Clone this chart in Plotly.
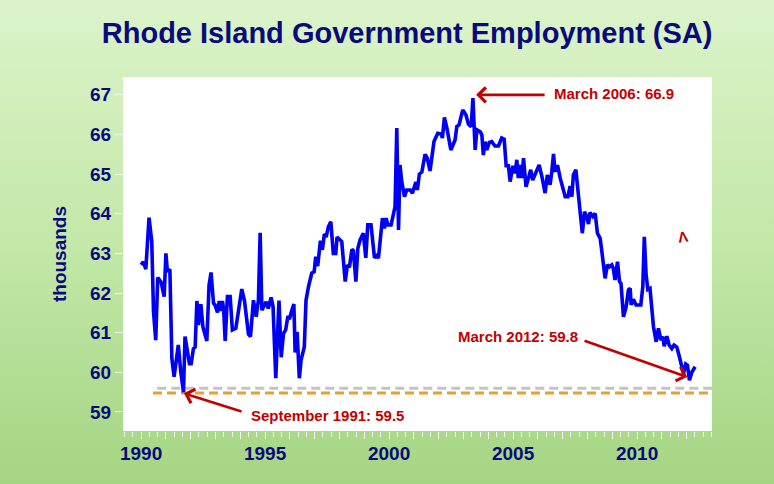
import base64
import plotly.graph_objects as go

# Rhode Island government employment (thousands, seasonally adjusted)
years = [
    1990.00, 1990.09, 1990.19, 1990.32, 1990.43, 1990.50, 1990.59, 1990.67, 1990.81, 1990.93,
    1991.00, 1991.06, 1991.16, 1991.24, 1991.33, 1991.50, 1991.60, 1991.71, 1991.77, 1991.87,
    1991.95, 1992.02, 1992.11, 1992.18, 1992.25, 1992.31, 1992.41, 1992.49, 1992.65, 1992.74,
    1992.82, 1992.92, 1992.98, 1993.08, 1993.15, 1993.21, 1993.28, 1993.33, 1993.39, 1993.48,
    1993.59, 1993.68, 1993.82, 1994.06, 1994.17, 1994.33, 1994.41, 1994.53, 1994.64, 1994.73,
    1994.80, 1994.87, 1994.96, 1995.04, 1995.13, 1995.24, 1995.32, 1995.43, 1995.56, 1995.65,
    1995.74, 1995.83, 1995.92, 1995.98, 1996.08, 1996.16, 1996.21, 1996.29, 1996.38, 1996.45,
    1996.58, 1996.65, 1996.75, 1996.88, 1996.98, 1997.04, 1997.12, 1997.23, 1997.31, 1997.39,
    1997.46, 1997.55, 1997.65, 1997.75, 1997.85, 1997.90, 1998.09, 1998.23, 1998.32, 1998.40,
    1998.50, 1998.56, 1998.66, 1998.74, 1998.83, 1998.96, 1999.06, 1999.14, 1999.27, 1999.41,
    1999.50, 1999.57, 1999.73, 1999.81, 1999.88, 1999.95, 2000.08, 2000.17, 2000.24, 2000.31,
    2000.38, 2000.44, 2000.51, 2000.62, 2000.71, 2000.85, 2000.94, 2001.08, 2001.14, 2001.22,
    2001.32, 2001.45, 2001.54, 2001.65, 2001.81, 2001.96, 2002.10, 2002.15, 2002.23, 2002.33,
    2002.49, 2002.66, 2002.73, 2002.82, 2002.97, 2003.10, 2003.20, 2003.31, 2003.38, 2003.47,
    2003.54, 2003.67, 2003.74, 2003.80, 2003.87, 2003.94, 2004.04, 2004.14, 2004.27, 2004.41,
    2004.54, 2004.64, 2004.72, 2004.81, 2004.88, 2004.99, 2005.08, 2005.15, 2005.21, 2005.28,
    2005.35, 2005.42, 2005.52, 2005.62, 2005.71, 2005.79, 2005.89, 2006.05, 2006.16, 2006.29,
    2006.38, 2006.49, 2006.56, 2006.63, 2006.69, 2006.79, 2006.90, 2007.00, 2007.10, 2007.21,
    2007.30, 2007.37, 2007.43, 2007.53, 2007.63, 2007.70, 2007.79, 2007.88, 2007.97, 2008.04,
    2008.10, 2008.21, 2008.31, 2008.40, 2008.51, 2008.58, 2008.64, 2008.71, 2008.80, 2008.88,
    2008.98, 2009.04, 2009.11, 2009.21, 2009.29, 2009.35, 2009.45, 2009.56, 2009.65, 2009.72,
    2009.76, 2009.85, 2009.96, 2010.15, 2010.23, 2010.29, 2010.36, 2010.43, 2010.52, 2010.59,
    2010.66, 2010.77, 2010.86, 2010.96, 2011.04, 2011.09, 2011.20, 2011.29, 2011.40, 2011.49,
    2011.60, 2011.69, 2011.80, 2011.87, 2011.96, 2012.03, 2012.11, 2012.21, 2012.34,
]
employment = [
    62.71, 62.79, 62.60, 63.90, 63.30, 61.53, 60.81, 62.39, 62.27, 61.91,
    63.00, 62.54, 62.60, 60.35, 59.89, 60.69, 60.01, 59.50, 60.90, 60.52,
    60.22, 60.22, 60.60, 60.64, 61.80, 61.19, 61.72, 61.15, 60.79, 62.20,
    62.52, 61.74, 61.70, 61.51, 61.80, 61.55, 61.80, 61.57, 60.79, 61.91,
    61.91, 61.07, 61.11, 62.10, 61.80, 60.96, 60.90, 61.82, 61.40, 61.82,
    63.52, 61.57, 61.70, 61.78, 61.61, 61.89, 61.66, 59.85, 61.81, 60.38,
    60.98, 61.07, 61.42, 61.34, 61.57, 61.72, 60.50, 61.02, 59.85, 60.31,
    60.64, 61.82, 62.16, 62.50, 62.54, 62.92, 62.68, 63.32, 63.09, 63.49,
    63.41, 63.67, 63.80, 63.00, 63.00, 63.41, 63.30, 62.29, 62.71, 62.65,
    63.10, 63.07, 62.29, 63.13, 63.34, 63.51, 62.89, 63.72, 63.72, 62.89,
    62.94, 62.88, 63.89, 63.63, 63.89, 63.72, 63.72, 64.01, 64.18, 66.16,
    63.59, 65.23, 64.81, 64.43, 64.60, 64.60, 64.52, 64.80, 64.60, 65.00,
    65.05, 65.50, 65.40, 65.08, 65.82, 66.03, 66.01, 65.91, 66.43, 66.16,
    65.61, 65.86, 66.20, 66.24, 66.62, 66.49, 66.26, 66.20, 66.92, 65.61,
    66.12, 66.07, 65.99, 65.48, 65.82, 65.61, 65.80, 65.82, 65.71, 65.71,
    65.91, 65.88, 65.21, 65.21, 64.81, 65.21, 65.02, 65.36, 64.90, 65.23,
    64.90, 65.40, 64.68, 64.90, 65.11, 64.85, 65.00, 65.23, 64.94, 64.52,
    64.98, 64.73, 65.06, 65.51, 65.06, 65.23, 64.90, 64.68, 64.43, 64.43,
    64.70, 64.43, 64.98, 65.11, 64.43, 64.10, 63.51, 64.05, 63.93, 63.74,
    64.03, 63.93, 64.01, 63.51, 63.38, 63.04, 62.75, 62.37, 62.71, 62.66,
    62.71, 62.62, 62.33, 62.79, 62.29, 62.24, 61.40, 61.66, 62.08, 62.12,
    61.70, 61.84, 61.70, 61.70, 62.16, 63.42, 62.49, 62.09, 62.12, 61.61,
    61.15, 60.77, 61.11, 60.81, 60.90, 60.66, 60.91, 60.69, 60.60, 60.69,
    60.64, 60.43, 60.14, 59.97, 60.21, 60.18, 59.80, 60.01, 60.14,
]

tick_years = list(range(1990, 2013))
tick_text = [str(y) if y % 5 == 0 else "" for y in tick_years]
y_ticks = list(range(59, 68))
LOW_VALUE = 59.5

X_RANGE = [1989.27, 2013.02]
Y_RANGE = [58.52, 67.45]

NAVY = "#0a0a7c"
RED = "#c20000"
FONT = "Liberation Sans, Arial, sans-serif"
TICK_COLOR = "rgba(255,255,255,0.85)"

# green gradient behind everything (plotly has no gradient paper background)
bg_svg = (
    "<svg xmlns='http://www.w3.org/2000/svg' width='774' height='484'>"
    "<defs><linearGradient id='g' x1='0' y1='0' x2='0' y2='1'>"
    "<stop offset='0' stop-color='#dcf3ca'/>"
    "<stop offset='0.5' stop-color='#c3e8a8'/>"
    "<stop offset='1' stop-color='#a4d583'/>"
    "</linearGradient></defs>"
    "<rect width='774' height='484' fill='url(#g)'/></svg>"
)
bg_uri = "data:image/svg+xml;base64," + base64.b64encode(bg_svg.encode()).decode()

W, H = 774, 484
M = dict(l=123, r=62, t=77, b=53)
pw = W - M["l"] - M["r"]
ph = H - M["t"] - M["b"]

fig = go.Figure()
fig.add_trace(go.Scatter(
    x=years, y=employment, mode="lines",
    line=dict(color="#0000f5", width=3.6),
    showlegend=False, hoverinfo="skip",
))

fig.add_layout_image(
    source=bg_uri, xref="paper", yref="paper",
    x=-M["l"] / pw, y=1 + M["t"] / ph,
    sizex=W / pw, sizey=H / ph,
    xanchor="left", yanchor="top", sizing="stretch", layer="below",
)
# white plotting area on top of the gradient
fig.add_shape(type="rect", xref="paper", yref="paper", x0=0, x1=1, y0=0, y1=1,
              fillcolor="white", line=dict(width=0), layer="below")

# grey shadow line + orange dashed low line
fig.add_shape(type="line", xref="x", yref="y", x0=1990.65, x1=X_RANGE[1],
              y0=LOW_VALUE + 0.1, y1=LOW_VALUE + 0.1,
              line=dict(color="#c4c4c4", width=3, dash="9px,5px"), layer="below")
fig.add_shape(type="line", xref="x", yref="y", x0=1990.48, x1=X_RANGE[1],
              y0=LOW_VALUE - 0.02, y1=LOW_VALUE - 0.02,
              line=dict(color="#e5a233", width=3, dash="9px,5px"), layer="below")

label_font = dict(family=FONT, size=15, color=RED, weight="bold")
for txt, tx, ty in [
    ("March 2006: 66.9", 2009.07, 67.04),
    ("March 2012: 59.8", 2005.18, 60.91),
    ("September 1991: 59.5", 1997.50, 58.92),
]:
    fig.add_annotation(text=txt, x=tx, y=ty, xref="x", yref="y",
                       showarrow=False, font=label_font)

for hx, hy, tx, ty in [
    (2003.51, 67.0, 2006.33, 67.0),
    (2012.02, 59.88, 2007.82, 60.81),
    (1991.73, 59.47, 1994.11, 59.0),
]:
    fig.add_annotation(text="", x=hx, y=hy, ax=tx, ay=ty,
                       xref="x", yref="y", axref="x", ayref="y",
                       showarrow=True, arrowhead=4, arrowsize=1.1,
                       arrowwidth=2.6, arrowcolor=RED, standoff=0)

# stray little caret on the original slide
fig.add_annotation(text="Λ", x=2011.85, y=63.42, xref="x", yref="y",
                   showarrow=False, textangle=-8,
                   font=dict(family=FONT, size=15, color=RED, weight="bold"))

fig.update_layout(
    width=W, height=H,
    margin=M,
    paper_bgcolor="#c3e8a8",
    plot_bgcolor="white",
    font=dict(family=FONT, color=NAVY),
    title=dict(
        text="Rhode Island Government Employment (SA)",
        x=0.526, xref="container", xanchor="center",
        y=0.932, yref="container", yanchor="middle",
        font=dict(family=FONT, size=29, color=NAVY, weight="bold"),
    ),
    xaxis=dict(
        range=X_RANGE, tickvals=tick_years, ticktext=tick_text,
        ticks="outside", ticklen=7, tickwidth=1, tickcolor=TICK_COLOR,
        minor=dict(dtick=1 / 3, tick0=1990, ticks="outside", ticklen=5,
                   tickcolor=TICK_COLOR),
        ticklabelstandoff=-2,
        tickfont=dict(family=FONT, size=19, color=NAVY, weight="bold"),
        showgrid=False, zeroline=False, showline=False,
    ),
    yaxis=dict(
        range=Y_RANGE, tickvals=y_ticks,
        ticks="outside", ticklen=7, tickwidth=1, tickcolor=TICK_COLOR,
        tickfont=dict(family=FONT, size=19, color=NAVY, weight="bold"),
        title=dict(text="thousands", standoff=18,
                   font=dict(family=FONT, size=19, color=NAVY, weight="bold")),
        showgrid=False, zeroline=False, showline=False,
    ),
)

# drop the page's default body margin so the figure sits at the window's corner
fig.write_html("out.html", config={"displayModeBar": False},
               post_script="document.body.style.margin = '0';")
